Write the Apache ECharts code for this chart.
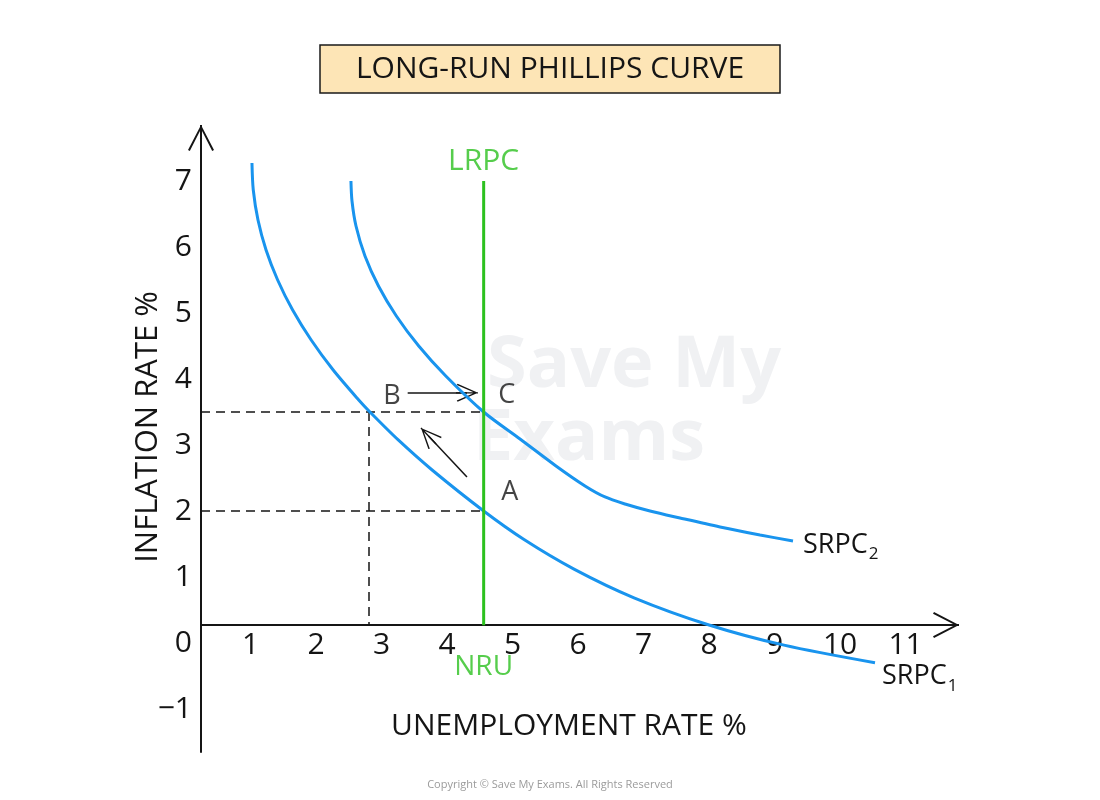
<!DOCTYPE html>
<html>
<head>
<meta charset="utf-8">
<script src="https://cdn.jsdelivr.net/npm/echarts@6/dist/echarts.min.js"></script>
<style>html,body{margin:0;padding:0;background:#fff}#c{width:1100px;height:800px}</style>
</head>
<body>
<div id="c"></div>
<script>
// ---- data (label coordinates: unemployment %, inflation %) ----
const titleText = 'LONG-RUN PHILLIPS CURVE';
const xName = 'UNEMPLOYMENT RATE %';
const yName = 'INFLATION RATE %';
const xRange = [0.245, 11.61];
const yRange = [-1.652, 7.644];
const axisCross = [0.245, 0.27];
const srpc1 = [[1.023,7.273],[1.043,6.864],[1.115,6.409],[1.238,5.955],[1.415,5.5],[1.644,5.045],[1.927,4.591],[2.263,4.136],[2.653,3.682],[2.824,3.5],[3.256,3.076],[3.773,2.621],[4.56,2.0],[5.176,1.568],[5.939,1.12],[6.855,0.685],[8.0,0.273],[9.145,-0.033],[10.534,-0.3]];
const srpc2 = [[2.534,7.0],[2.55,6.697],[2.611,6.318],[2.748,5.864],[2.954,5.409],[3.227,4.955],[3.569,4.5],[3.982,4.045],[4.56,3.5],[5.115,3.091],[5.664,2.682],[6.107,2.379],[6.412,2.212],[6.718,2.106],[7.099,2.0],[7.557,1.894],[8.168,1.758],[8.779,1.636],[9.282,1.545]];
const lrpc = [[4.56,7.0],[4.56,0.27]];
const pointA = [4.56, 2.0];
const pointB = [2.81, 3.5];
const pointC = [4.56, 3.5];
const arrowBC = [[3.40,3.79],[4.305,3.79]];
const arrowAB = [[4.305,2.515],[3.718,3.136]];
const seriesNames = ['SRPC1','SRPC2','LRPC'];

const FONT = '"Open Sans", Lato, "DejaVu Sans", sans-serif';
const INK = '#151515';
const BLUE = '#1994ee';
const GREEN = '#2cc11f';
const chevron = 'path://M13,0 L26,25 L24.2,26 L13,4 L1.8,26 L0,25 Z M12,0 L14,0 L14,27 L12,27 Z';

const chart = echarts.init(document.getElementById('c'), null, {renderer:'canvas'});

function subLabel(base, sub) {
  return {
    formatter: '{b|' + base + '}{s|' + sub + '}',
    rich: {
      b: {fontSize: 27, fontFamily: FONT, color: INK},
      s: {fontSize: 17, fontFamily: FONT, color: INK, verticalAlign: 'bottom', padding: [0,0,-4,1]}
    }
  };
}

const option = {
  animation: false,
  backgroundColor: '#ffffff',
  grid: {left: 201, right: 154.5, top: 138.5, bottom: 48, containLabel: false, outerBoundsMode: 'none'},
  xAxis: {
    type: 'value', min: xRange[0], max: xRange[1], minInterval: 1, maxInterval: 1,
    position: 'bottom', offset: -127,
    axisLine: {onZero: false, symbol: ['none', chevron], symbolSize: [26,27], lineStyle: {color: INK, width: 2}},
    axisTick: {show: false}, splitLine: {show: false},
    axisLabel: {showMinLabel: false, showMaxLabel: false, fontSize: 30, color: INK, margin: 5, fontFamily: FONT}
  },
  yAxis: {
    type: 'value', min: yRange[0], max: yRange[1], minInterval: 1, maxInterval: 1,
    position: 'left',
    axisLine: {onZero: false, symbol: ['none', chevron], symbolSize: [26,27], lineStyle: {color: INK, width: 2}},
    axisTick: {show: false}, splitLine: {show: false},
    axisLabel: {showMinLabel: false, showMaxLabel: false, fontSize: 30, color: INK, margin: 9, fontFamily: FONT,
      formatter: v => v < 0 ? '\u2212' + Math.abs(v) : String(v)}
  },
  graphic: [
    {type: 'text', silent: true, z: 0, left: 487, top: 330, style: {text: 'Save My', fontSize: 72, fontWeight: 'bold', fontFamily: FONT, fill: '#f0f1f3'}},
    {type: 'text', silent: true, z: 0, left: 473, top: 403, style: {text: 'Exams', fontSize: 72, fontWeight: 'bold', fontFamily: FONT, fill: '#f0f1f3'}},
    {type: 'rect', z: 10, shape: {x: 320, y: 45, width: 460, height: 48}, style: {fill: '#fde5b6', stroke: '#1a1a1a', lineWidth: 1.5}},
    {type: 'text', z: 11, x: 550, y: 69, style: {text: titleText, fontSize: 30, fontFamily: FONT, fill: INK, align: 'center', verticalAlign: 'middle'}},
    {type: 'text', z: 11, x: 569, y: 726, style: {text: xName, fontSize: 30, fontFamily: FONT, fill: INK, align: 'center', verticalAlign: 'middle'}},
    {type: 'text', z: 11, x: 148, y: 427, rotation: Math.PI / 2, style: {text: yName, fontSize: 31, fontFamily: FONT, fill: INK, align: 'center', verticalAlign: 'middle'}},
    {type: 'text', z: 11, x: 550, y: 785, style: {text: 'Copyright \u00a9 Save My Exams. All Rights Reserved', fontSize: 11, fontFamily: '"Open Sans", sans-serif', fill: '#9b9b9b', align: 'center', verticalAlign: 'middle'}}
  ],
  series: [
    {
      name: seriesNames[0], type: 'line', data: srpc1, smooth: 0.3, showSymbol: false, symbol: 'none',
      lineStyle: {color: BLUE, width: 3}, z: 3,
      endLabel: Object.assign({show: true, distance: 7, offset: [0, 14]}, subLabel('SRPC', '1'))
    },
    {
      name: seriesNames[1], type: 'line', data: srpc2, smooth: 0.3, showSymbol: false, symbol: 'none',
      lineStyle: {color: BLUE, width: 3}, z: 3,
      endLabel: Object.assign({show: true, distance: 10, offset: [0, 4]}, subLabel('SRPC', '2'))
    },
    {
      name: seriesNames[2], type: 'line', data: lrpc, showSymbol: false, symbol: 'none',
      lineStyle: {color: GREEN, width: 3}, z: 4,
      markLine: {
        silent: true, symbol: 'none', z: 2,
        label: {show: false},
        lineStyle: {color: INK, width: 1.5, type: [9, 6]},
        data: [
          [{coord: [axisCross[0], pointC[1]]}, {coord: pointC}],
          [{coord: [axisCross[0], pointA[1]]}, {coord: pointA}],
          [{coord: pointB}, {coord: [pointB[0], axisCross[1]]}],
          [{coord: arrowBC[0], symbol: 'none'}, {coord: arrowBC[1], symbol: chevron, symbolSize: [18, 22], lineStyle: {type: 'solid', width: 1.5, color: INK}}],
          [{coord: arrowAB[0], symbol: 'none'}, {coord: arrowAB[1], symbol: chevron, symbolSize: [18, 22], lineStyle: {type: 'solid', width: 1.5, color: INK}}]
        ]
      }
    },
    {
      name: 'labels', type: 'scatter', symbolSize: 1, itemStyle: {color: 'rgba(0,0,0,0)'}, z: 6, silent: true,
      data: [
        {value: lrpc[0], label: {show: true, formatter: 'LRPC', position: 'top', distance: 4, color: GREEN, fontSize: 30, fontFamily: FONT}},
        {value: lrpc[1], label: {show: true, formatter: 'NRU', position: 'bottom', distance: 27, color: GREEN, fontSize: 28, fontFamily: FONT}},
        {value: pointA, label: {show: true, formatter: 'A', position: 'inside', offset: [26, -19], color: INK, fontSize: 27, fontFamily: FONT}},
        {value: pointB, label: {show: true, formatter: 'B', position: 'inside', offset: [23, -16], color: INK, fontSize: 27, fontFamily: FONT}},
        {value: pointC, label: {show: true, formatter: 'C', position: 'inside', offset: [23, -17], color: INK, fontSize: 27, fontFamily: FONT}}
      ]
    }
  ]
};
chart.setOption(option);
</script>
</body>
</html>
